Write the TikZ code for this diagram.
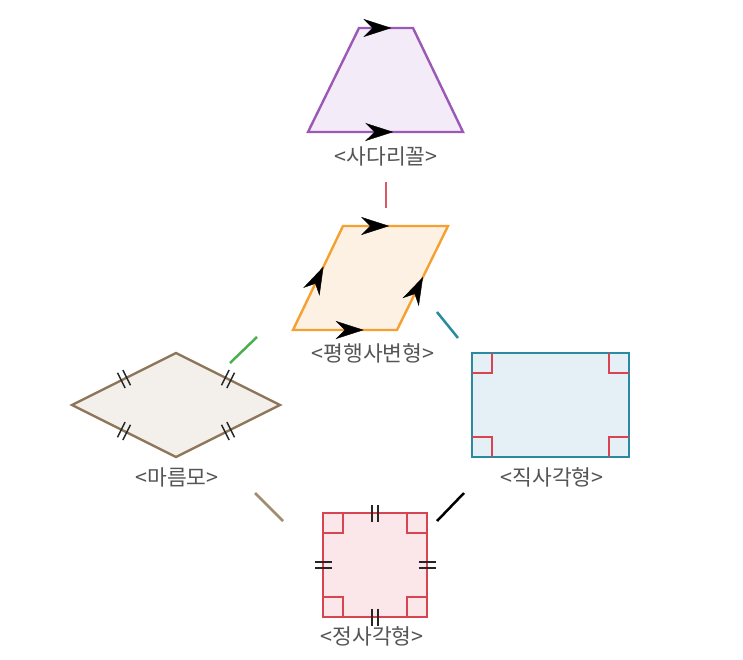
\documentclass[tikz,border=0pt]{standalone}
\usepackage{fontspec}
\newfontfamily\kr{Noto Sans CJK KR}
\usetikzlibrary{arrows.meta,decorations.markings,calc}
\definecolor{trapS}{HTML}{9B59B6}
\definecolor{trapF}{HTML}{F3EBF8}
\definecolor{parS}{HTML}{F5A030}
\definecolor{parF}{HTML}{FDF1E4}
\definecolor{rhoS}{HTML}{8C7558}
\definecolor{rhoF}{HTML}{F3F0EC}
\definecolor{recS}{HTML}{2A8AA0}
\definecolor{recF}{HTML}{E4F0F5}
\definecolor{sqS}{HTML}{D94452}
\definecolor{sqF}{HTML}{FBE6E9}
\definecolor{conR}{HTML}{D9596A}
\definecolor{conG}{HTML}{4CAF50}
\definecolor{conB}{HTML}{A08C6E}
\definecolor{txt}{HTML}{555555}
\tikzset{
  shapeline/.style={line width=2.4pt, line join=miter},
  conn/.style={line width=2.5pt},
  lab/.style={text=txt, font=\kr\fontsize{21.5}{24}\selectfont, inner sep=0pt},
  parr/.style={decorate, decoration={markings, mark=at position #1 with {\arrow[black]{Stealth[length=28pt,width=18pt,inset=9pt]}}}},
  ticks/.style={decorate, decoration={markings, mark=at position 0.5 with {\draw[black!85, line width=1.5pt] (-3pt,-8.5pt)--(-3pt,8.5pt) (3pt,-8.5pt)--(3pt,8.5pt);}}},
  rang/.style={line width=1.8pt}
}
\begin{document}
\begin{tikzpicture}[x=1pt,y=-1pt]
\useasboundingbox (0,0) rectangle (743,660);
\fill[white] (0,0) rectangle (743,660);

% trapezoid
\coordinate (t1) at (359,28);
\coordinate (t2) at (413,28);
\coordinate (t3) at (463,132);
\coordinate (t4) at (308,132);
\filldraw[shapeline, draw=trapS, fill=trapF] (t1)--(t2)--(t3)--(t4)--cycle;
\path[parr=0.6] (t1)--(t2);
\path[parr=0.55] (t4)--(t3);
\node[lab] (ltrap) at (386,156) {<사다리꼴>};

% parallelogram
\coordinate (p1) at (343,226);
\coordinate (p2) at (448,226);
\coordinate (p3) at (397,330);
\coordinate (p4) at (293,330);
\filldraw[shapeline, draw=parS, fill=parF] (p1)--(p2)--(p3)--(p4)--cycle;
\path[parr=0.44] (p1)--(p2);
\path[parr=0.68] (p4)--(p3);
\path[parr=0.61] (p4)--(p1);
\path[parr=0.51] (p3)--(p2);
\node[lab] (lpar) at (373,353) {<평행사변형>};

% rhombus
\coordinate (r1) at (72,405);
\coordinate (r2) at (176,353);
\coordinate (r3) at (280,405);
\coordinate (r4) at (176,457);
\filldraw[shapeline, draw=rhoS, fill=rhoF] (r1)--(r2)--(r3)--(r4)--cycle;
\path[ticks] (r1)--(r2);
\path[ticks] (r2)--(r3);
\path[ticks] (r3)--(r4);
\path[ticks] (r4)--(r1);
\node[lab] (lrho) at (177,477) {<마름모>};

% rectangle
\coordinate (q1) at (472,353);
\coordinate (q3) at (629,457);
\filldraw[shapeline, draw=recS, fill=recF] (q1) rectangle (q3);
\draw[rang, sqS] ($(q1)+(20,0)$) -- ($(q1)+(20,20)$) -- ($(q1)+(0,20)$);
\draw[rang, sqS] ($(q3|-q1)+(-20,0)$) -- ($(q3|-q1)+(-20,20)$) -- ($(q3|-q1)+(0,20)$);
\draw[rang, sqS] ($(q1|-q3)+(20,0)$) -- ($(q1|-q3)+(20,-20)$) -- ($(q1|-q3)+(0,-20)$);
\draw[rang, sqS] ($(q3)+(-20,0)$) -- ($(q3)+(-20,-20)$) -- ($(q3)+(0,-20)$);
\node[lab] (lrec) at (552,477) {<직사각형>};

% square
\coordinate (s1) at (323,513);
\coordinate (s3) at (427,617);
\filldraw[shapeline, draw=sqS, fill=sqF] (s1) rectangle (s3);
\draw[rang, sqS] ($(s1)+(20,0)$) -- ($(s1)+(20,20)$) -- ($(s1)+(0,20)$);
\draw[rang, sqS] ($(s3|-s1)+(-20,0)$) -- ($(s3|-s1)+(-20,20)$) -- ($(s3|-s1)+(0,20)$);
\draw[rang, sqS] ($(s1|-s3)+(20,0)$) -- ($(s1|-s3)+(20,-20)$) -- ($(s1|-s3)+(0,-20)$);
\draw[rang, sqS] ($(s3)+(-20,0)$) -- ($(s3)+(-20,-20)$) -- ($(s3)+(0,-20)$);
\path[ticks] (s1) -- (s3|-s1);
\path[ticks] (s3|-s1) -- (s3);
\path[ticks] (s3) -- (s1|-s3);
\path[ticks] (s1|-s3) -- (s1);
\node[lab] (lsq) at (372,636) {<정사각형>};

% connectors
\coordinate (c1a) at (386,182); \coordinate (c1b) at (386,208);
\coordinate (c2a) at (437,312); \coordinate (c2b) at (458,338);
\coordinate (c3a) at (230,363); \coordinate (c3b) at (257,337);
\coordinate (c4a) at (255,493); \coordinate (c4b) at (283,521);
\coordinate (c5a) at (437,521); \coordinate (c5b) at (464,493);
\draw[conn, conR] (c1a) -- (c1b);
\draw[conn, recS] (c2a) -- (c2b);
\draw[conn, conG] (c3a) -- (c3b);
\draw[conn, conB] (c4a) -- (c4b);
\draw[conn, black] (c5a) -- (c5b);
\end{tikzpicture}
\end{document}
